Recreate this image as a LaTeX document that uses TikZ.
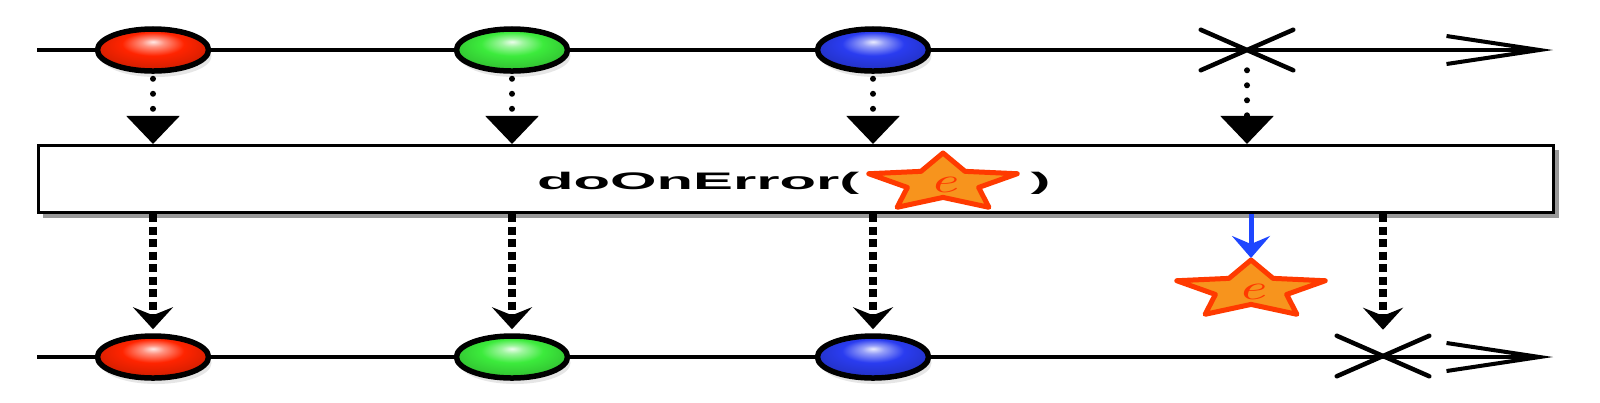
\documentclass[tikz,border=0pt]{standalone}
\usepackage{fontspec}
\setsansfont{Liberation Sans}
\usetikzlibrary{arrows.meta, shapes.geometric, shapes.misc, shadows}
\definecolor{marbred}{HTML}{FF2400}
\definecolor{marbgreen}{HTML}{3CEB3C}
\definecolor{marbblue}{HTML}{2A3CF0}
\definecolor{starfill}{HTML}{F7941D}
\definecolor{starline}{HTML}{FF3A00}
\definecolor{errblue}{HTML}{1E46FF}
\pgfdeclareradialshading[marblecol]{marble}{\pgfpoint{0bp}{10bp}}{%
  color(0bp)=(marblecol!10!white); color(5bp)=(marblecol!50!white);
  color(14bp)=(marblecol); color(28bp)=(marblecol!82!black);
  color(50bp)=(marblecol!70!black)}
\tikzset{
  marble color/.code={\colorlet{marblecol}{#1}},
  marble/.style={ellipse, draw, line width=0.55mm, minimum width=1.11cm,
    minimum height=0.42cm, inner sep=0pt, marble color=#1, shade, shading=marble,
    drop shadow={shadow xshift=0.3mm, shadow yshift=-0.6mm, opacity=0.2}},
  timeline/.style={line width=0.4mm,
    -{Straight Barb[length=9.3mm, width=2.8mm, line width=0.4mm]}},
  crossmark/.style={cross out, draw, line width=0.45mm, line cap=round,
    minimum width=8.8mm, minimum height=3.6mm, inner sep=0pt},
  opbox/.style={draw, fill=white, line width=0.3mm, minimum width=15.15cm,
    minimum height=0.67cm, inner sep=0pt,
    drop shadow={shadow xshift=0.5mm, shadow yshift=-0.5mm, opacity=0.8}},
  optext/.style={font=\sffamily\bfseries\fontsize{6.8}{8}\selectfont, inner sep=0pt},
  errletter/.style={text=starline, font=\itshape\fontsize{10}{10}\selectfont, inner sep=0pt},
  dotarrow/.style={line width=0.6mm, line cap=round, dash pattern=on 0pt off 1.5mm,
    -{Triangle[length=2.8mm, width=5.2mm]}},
  dasharrow/.style={line width=0.8mm, dash pattern=on 0.8mm off 0.45mm,
    -{Stealth[length=2.2mm, width=4mm, inset=0.8mm]}},
  errarrow/.style={errblue, line width=0.5mm,
    -{Stealth[length=2.2mm, width=3.8mm, inset=0.8mm]}},
  errstar/.pic={
    \draw[starline, fill=starfill, line width=0.5mm, line join=round, x=0.78cm, y=0.30cm]
      (90:1) \foreach \k in {1,...,9}{ -- ({90+36*\k}:{isodd(\k) ? 0.48 : 1})} -- cycle;
    \node[errletter] at (0,1.5) {\scalebox{1.7}[1]{e}};
    \coordinate (-top) at (0,-30);
  }
}
\begin{document}
\begin{tikzpicture}[x=0.01cm, y=-0.01cm]
\useasboundingbox (0,0) rectangle (1600,402);
% time lines
\coordinate (t0) at (37,50);
\coordinate (t1) at (1553,50);
\coordinate (u0) at (37,357);
\coordinate (u1) at (1553,357);
\draw[timeline] (t0) -- (t1);
\draw[timeline] (u0) -- (u1);
% source items
\node[marble=marbred] (r1) at (153,50) {};
\node[marble=marbgreen] (g1) at (512,50) {};
\node[marble=marbblue] (b1) at (873,50) {};
\node[crossmark] (x1) at (1247,50) {};
% operator
\node[opbox] (op) at (796,179) {};
\node[optext, anchor=base east] (opname) at (860,189) {\scalebox{2.5}[1]{doOnError(}};
\node[optext, anchor=base west] (opclose) at (1030,189) {\scalebox{2.5}[1]{)}};
\pic at (943,183) {errstar};
% result items
\node[marble=marbred] (r2) at (153,357) {};
\node[marble=marbgreen] (g2) at (512,357) {};
\node[marble=marbblue] (b2) at (873,357) {};
\pic (e2) at (1251,290) {errstar};
\node[crossmark] (x2) at (1383,356) {};
% connectors
\draw[dotarrow, shorten <=0.5mm] (r1) -- (r1 |- op.north);
\draw[dotarrow, shorten <=0.5mm] (g1) -- (g1 |- op.north);
\draw[dotarrow, shorten <=0.5mm] (b1) -- (b1 |- op.north);
\draw[dotarrow] (x1) -- (x1 |- op.north);
\draw[dasharrow, shorten >=0.4mm] (r2 |- op.south) -- (r2);
\draw[dasharrow, shorten >=0.4mm] (g2 |- op.south) -- (g2);
\draw[dasharrow, shorten >=0.4mm] (b2 |- op.south) -- (b2);
\draw[dasharrow, shorten >=0.6mm] (x2 |- op.south) -- (x2);
\draw[errarrow, shorten >=0.2mm] (e2-top |- op.south) -- (e2-top);
\end{tikzpicture}
\end{document}
